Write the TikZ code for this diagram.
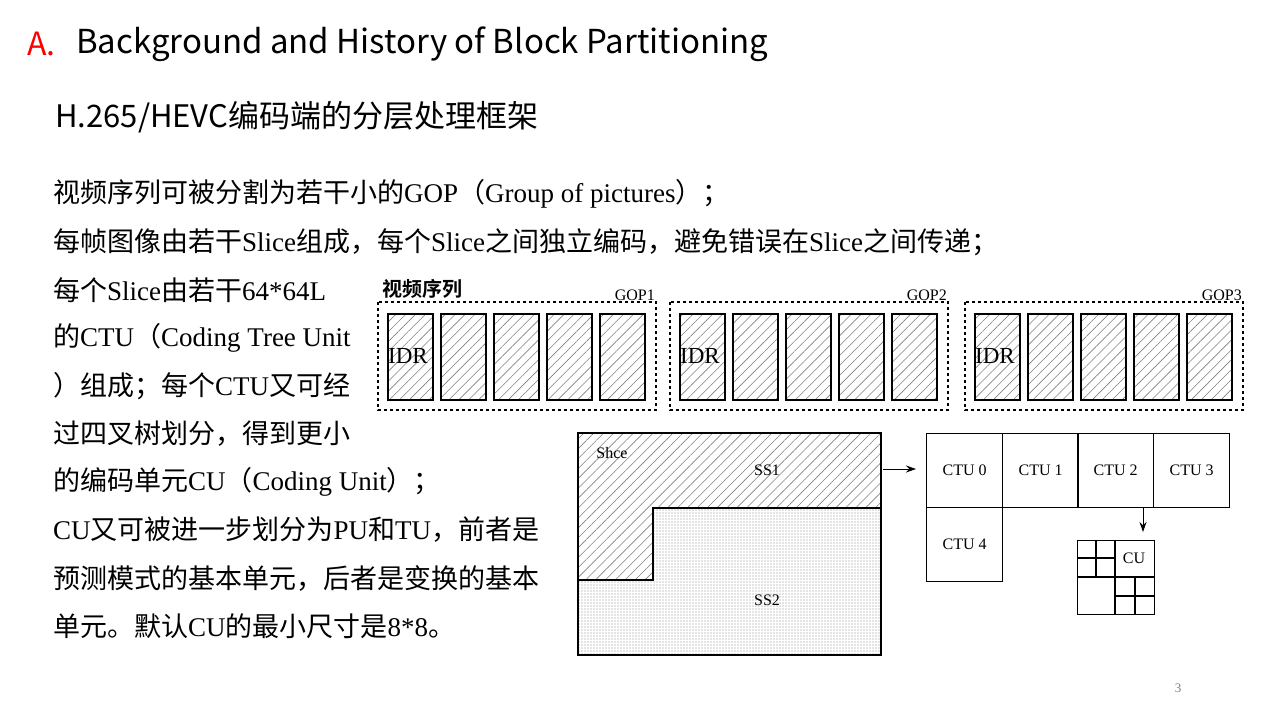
\documentclass[tikz,border=0pt]{standalone}
\usepackage{fontspec}
\setmainfont{Liberation Serif}
\newfontfamily\cjk{Noto Sans CJK SC}
\newfontfamily\cjkb{Noto Sans CJK SC Bold}
\usetikzlibrary{patterns.meta,arrows.meta}
\newcommand\Cj[1]{{\cjk #1}}
\begin{document}
\begin{tikzpicture}[x=1pt,y=-1pt,
  body/.style={anchor=west,inner sep=0,font=\fontsize{27}{27}\selectfont},
  fig/.style={font=\fontsize{16}{16}\selectfont},
  hatch/.style={pattern={Lines[angle=45,distance=7pt,line width=0.6pt]},pattern color=gray},
  frame/.style={draw,line width=1.5pt,hatch},
  gop/.style={draw,line width=1.8pt,dash pattern=on 3pt off 3pt},
  grid/.style={draw,line width=1.4pt},
  arr/.style={-{Stealth[length=10pt,width=7pt]},line width=1pt}]
\useasboundingbox (0,0) rectangle (1280,720);
\node[anchor=west,inner sep=0,text=red,font=\cjk\fontsize{32}{32}\selectfont] (ta) at (27,44) {A.};
\node[anchor=west,inner sep=0,font=\cjk\fontsize{33}{33}\selectfont] (tt) at (76,44) {Background and History of Block Partitioning};
\node[anchor=west,inner sep=0,font=\cjk\fontsize{31}{31}\selectfont] (st) at (55,117) {H.265/HEVC编码端的分层处理框架};
\node[body] (l1) at (53,194) {\Cj{视频序列可被分割为若干小的}GOP\Cj{（}Group of pictures\Cj{）；}};
\node[body] (l2) at (53,242) {\Cj{每帧图像由若干}Slice\Cj{组成，每个}Slice\Cj{之间独立编码，避免错误在}Slice\Cj{之间传递；}};
\node[body] (l3) at (53,290) {\Cj{每个}Slice\Cj{由若干}64*64L};
\node[body] (l4) at (53,338) {\Cj{的}CTU\Cj{（}Coding Tree Unit};
\node[body] (l5) at (53,386) {\Cj{）组成；每个}CTU\Cj{又可经}};
\node[body] (l6) at (53,434) {\Cj{过四叉树划分，得到更小}};
\node[body] (l7) at (53,482) {\Cj{的编码单元}CU\Cj{（}Coding Unit\Cj{）；}};
\node[body] (l8) at (53,530) {CU\Cj{又可被进一步划分为}PU\Cj{和}TU\Cj{，前者是}};
\node[body] (l9) at (53,578) {\Cj{预测模式的基本单元，后者是变换的基本}};
\node[body] (l10) at (53,626) {\Cj{单元。默认}CU\Cj{的最小尺寸是}8*8\Cj{。}};
% GOP figure
\node[anchor=west,inner sep=0,font=\cjkb\fontsize{20}{20}\selectfont] (vs) at (382,289) {视频序列};
\foreach \g/\x in {1/378,2/670,3/965}{
  \draw[gop] (\x,302) rectangle ++(278,108);
  \node[fig,anchor=east,inner sep=0] (gl\g) at (\x+277,295) {GOP\g};
  \foreach \i in {0,...,4}{
    \draw[frame] (\x+10+53*\i,314) rectangle ++(45,86);
  }
  \node[anchor=west,inner sep=0,font=\fontsize{23}{23}\selectfont] (idr\g) at (\x+10,356) {IDR};
}
% slice
\fill[pattern={Dots[distance=3pt,radius=0.55pt]},pattern color=gray!90] (578,580) -- (653,580) -- (653,508) -- (881,508) -- (881,655) -- (578,655) -- cycle;
\fill[hatch] (578,433) -- (881,433) -- (881,508) -- (653,508) -- (653,580) -- (578,580) -- cycle;
\draw[line width=1.5pt] (578,433) rectangle (881,655);
\draw[line width=1.5pt] (578,580) -- (653,580) -- (653,508) -- (881,508);
\node[fig] (shce) at (612,453) {Shce};
\node[fig] (ss1) at (767,470) {SS1};
\node[fig] (ss2) at (767,600) {SS2};
% CTU
\foreach \i/\x in {0/926,1/1002,2/1077,3/1153}{
  \node[grid,minimum width=76pt,minimum height=74pt,anchor=north west,fig] (ctu\i) at (\x,433) {CTU \i};
}
\node[grid,minimum width=76pt,minimum height=74pt,anchor=north west,fig] (ctu4) at (926,507) {CTU 4};
\coordinate (sr) at (883,469);
\coordinate (se) at (916,469);
\draw[arr] (sr) -- (se);
\node[grid,minimum width=77pt,minimum height=74pt,anchor=north west,inner sep=0] (cu) at (1077,540) {};
\coordinate (ds) at (1143,508);
\coordinate (de) at (1143,532);
\draw[arr] (ds) -- (de);
\draw[line width=1.3pt] (1115,540) -- (1115,614) (1077,577) -- (1154,577)
  (1096,540) -- (1096,577) (1077,558) -- (1115,558)
  (1135,577) -- (1135,614) (1115,596) -- (1154,596);
\node[fig] (cul) at (1134,558) {CU};
\node[text=gray,font=\fontsize{13}{13}\selectfont] (pg) at (1178,688) {3};
\end{tikzpicture}
\end{document}
